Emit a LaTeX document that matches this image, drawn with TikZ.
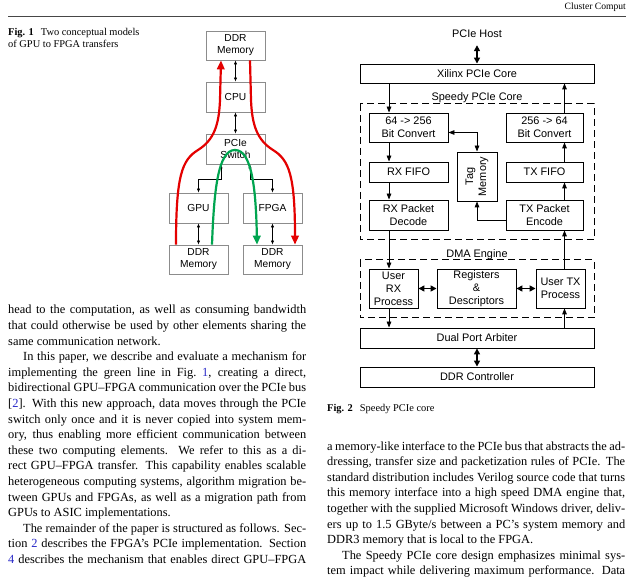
\documentclass[tikz,border=0pt]{standalone}
\usepackage{fontspec}
\setmainfont{Liberation Serif}
\newfontfamily\arialfam{Liberation Sans}
\usetikzlibrary{arrows.meta}
\definecolor{figred}{RGB}{228,0,0}
\definecolor{figgreen}{RGB}{0,165,80}
\definecolor{boxgray}{RGB}{140,140,140}
\definecolor{linkblue}{RGB}{40,40,200}
\definecolor{rulegray}{RGB}{70,70,70}
\newcommand\BodyFont{\fontsize{12.4}{15.6}\selectfont}
\newcommand\CapFont{\fontsize{10.4}{11.8}\selectfont}
\newcommand\HeadFont{\fontsize{9.6}{11}\selectfont}
\newcommand\FigAFont{\arialfam\fontsize{10.2}{12}\selectfont}
\newcommand\FigBFont{\arialfam\fontsize{10.9}{13}\selectfont}
\newcommand\lk[1]{\textcolor{linkblue}{#1}}
\newcommand\JL[1]{\hbox to\hsize{#1}}
\newcommand\NL[1]{\hbox{#1}}
\begin{document}
\begin{tikzpicture}[x=1pt,y=-1pt,
  gbox/.style={draw=boxgray, line width=0.7pt, fill=white, minimum width=59pt, minimum height=30pt, inner sep=0pt, align=center, font=\FigAFont},
  bbox/.style={draw=black, line width=0.9pt, fill=white, inner sep=0pt, align=center, font=\FigBFont},
  thinarr/.style={{Latex[length=4pt,width=3.2pt]}-{Latex[length=4pt,width=3.2pt]}, line width=0.55pt},
  redarr/.style={draw=figred, line width=2.2pt, -{Triangle[length=9pt,width=7.5pt]}},
  greenarr/.style={draw=figgreen, line width=2.2pt, -{Triangle[length=9pt,width=7.5pt]}},
  arr/.style={-{Triangle[length=6pt,width=4.6pt]}, line width=0.9pt},
  darr/.style={{Triangle[length=6pt,width=4.6pt]}-{Triangle[length=6pt,width=4.6pt]}, line width=0.9pt},
  barr/.style={{Triangle[length=6pt,width=6pt]}-{Triangle[length=6pt,width=6pt]}, line width=1.5pt},
  dashbox/.style={draw=black, line width=1pt, dash pattern=on 7pt off 4pt},
  lbl/.style={inner sep=0pt, font=\FigBFont}
]
\useasboundingbox (0,0) rectangle (640,577);
\fill[white] (0,0) rectangle (640,577);

% ---------- header ----------
\node[anchor=base east, inner sep=0pt, font=\HeadFont] (hdr) at (626,10) {Cluster Comput};
\coordinate (ruleL) at (8,16.5);
\coordinate (ruleR) at (626,16.5);
\draw[line width=0.7pt, rulegray] (ruleL) -- (ruleR);

% ---------- Fig. 1 caption ----------
\node[anchor=base west, inner sep=0pt] (cap1) at (8,35.5) {\vtop{\CapFont\hsize=150pt
  \NL{\textbf{Fig. 1}\hspace{7pt}Two conceptual models}
  \NL{of GPU to FPGA transfers}}};

% ---------- Fig. 1 ----------
\node[gbox, minimum height=29pt] (ddrT) at (235.5,45.5) {DDR\\Memory};
\node[gbox] (cpu) at (235.5,97) {CPU};
\node[gbox] (sw) at (235.5,149) {PCIe\\Switch};
\node[gbox] (gpu) at (198.5,208) {GPU};
\node[gbox] (fpga) at (272.5,208) {FPGA};
\node[gbox, minimum height=29pt] (ddrL) at (198.5,259.5) {DDR\\Memory};
\node[gbox, minimum height=29pt] (ddrR) at (272.5,259.5) {DDR\\Memory};

\draw[thinarr] (ddrT.south) -- (cpu.north);
\draw[thinarr] (cpu.south) -- (sw.north);
\draw[thinarr] ([xshift=-14.5pt]sw.south) -- ++(0,15) -| (gpu.north);
\draw[thinarr] ([xshift=14.5pt]sw.south) -- ++(0,15) -| (fpga.north);
\draw[thinarr] (gpu.south) -- (ddrL.north);
\draw[thinarr] (fpga.south) -- (ddrR.north);

\draw[redarr] ([xshift=-22.5pt]ddrL.north) .. controls (176,175) and (182,160) .. (198,150)
  .. controls (214,140) and (219,125) .. (220,100) -- ([xshift=-14.5pt]ddrT.south);
\draw[redarr] ([xshift=14.5pt]ddrT.south) -- (251,100) .. controls (252,125) and (257,140) .. (273,150)
  .. controls (289,160) and (295,175) .. ([xshift=22.5pt]ddrR.north);
\draw[greenarr] ([xshift=13.5pt]ddrL.north) .. controls (214,190) and (218,150) .. (235,150)
  .. controls (252,150) and (256,190) .. ([xshift=-15.5pt]ddrR.north);

% ---------- Fig. 2 ----------
\draw[dashbox] (360,104) rectangle (594,240);
\draw[dashbox] (360,260) rectangle (594,318);
\node[lbl] (splbl) at (477,98) {Speedy PCIe Core};
\node[lbl] (dmalbl) at (477,255) {DMA Engine};

\node[lbl, minimum height=22pt] (host) at (477,34) {PCIe Host};
\node[bbox, minimum width=234pt, minimum height=19pt] (xil) at (477,73.5) {Xilinx PCIe Core};
\node[bbox, minimum width=79pt, minimum height=29pt] (bc1) at (408.5,127.5) {64 -> 256\\Bit Convert};
\node[bbox, minimum width=77pt, minimum height=29pt] (bc2) at (544.5,127.5) {256 -> 64\\Bit Convert};
\node[bbox, minimum width=79pt, minimum height=20pt] (rxf) at (408.5,172) {RX FIFO};
\node[bbox, minimum width=79pt, minimum height=30pt] (rxd) at (408.5,215) {RX Packet\\Decode};
\node[bbox, minimum width=40pt, minimum height=49pt] (tag) at (477,176.5) {};
\node[lbl, rotate=90, align=center] (tagtxt) at (tag.center) {Tag\\Memory};
\node[bbox, minimum width=77pt, minimum height=20pt] (txf) at (544.5,172) {TX FIFO};
\node[bbox, minimum width=77pt, minimum height=30pt] (txe) at (544.5,215) {TX Packet\\Encode};
\node[bbox, minimum width=49pt, minimum height=39pt] (urx) at (393.5,288.5) {User\\RX\\Process};
\node[bbox, minimum width=79pt, minimum height=39pt] (reg) at (476.5,288.5) {Registers\\\&\\Descriptors};
\node[bbox, minimum width=49pt, minimum height=39pt] (utx) at (560.5,288.5) {User TX\\Process};
\node[bbox, minimum width=234pt, minimum height=20pt] (arb) at (477,338) {Dual Port Arbiter};
\node[bbox, minimum width=234pt, minimum height=20pt] (ddrc) at (477,377) {DDR Controller};

\coordinate (colL) at (389,0);
\coordinate (colR) at (564.5,0);

\draw[barr] (host.south) -- (xil.north);
\draw[arr] (xil.south -| colL) -- (bc1.north -| colL);
\draw[arr] (bc1.south -| colL) -- (rxf.north -| colL);
\draw[arr] (rxf.south -| colL) -- (rxd.north -| colL);
\draw[darr] ([yshift=-5pt]bc1.east) -| (tag.north);
\draw[arr] ([yshift=-5pt]txe.west) -| (tag.south);
\draw[arr] (txe.north -| colR) -- (txf.south -| colR);
\draw[arr] (txf.north -| colR) -- (bc2.south -| colR);
\draw[arr] (bc2.north -| colR) -- (xil.south -| colR);
\draw[arr] (rxd.south -| colL) -- (urx.north -| colL);
\draw[arr] (utx.north -| colR) -- (txe.south -| colR);
\draw[barr] (urx.east) -- (reg.west);
\draw[barr] (reg.east) -- (utx.west);
\draw[arr] (urx.south -| colL) -- (arb.north -| colL);
\draw[arr] (arb.north -| colR) -- (utx.south -| colR);
\draw[barr] (arb.south) -- (ddrc.north);

\node[anchor=base west, inner sep=0pt] (cap2) at (327,411) {\CapFont\textbf{Fig. 2}\hspace{7pt}Speedy PCIe core};

% ---------- body text, left column ----------
\node[anchor=base west, inner sep=0pt] (txtL) at (8,314) {\vtop{\BodyFont\hsize=298pt
\JL{head to the computation, as well as consuming bandwidth}
\JL{that could otherwise be used by other elements sharing the}
\NL{same communication network.}
\JL{\hspace*{15pt}In this paper, we describe and evaluate a mechanism for}
\JL{implementing the green line in Fig.~\lk{1}, creating a direct,}
\JL{bidirectional GPU--FPGA communication over the PCIe bus}
\JL{[\lk{2}]. With this new approach, data moves through the PCIe}
\JL{switch only once and it is never copied into system mem-}
\JL{ory, thus enabling more efficient communication between}
\JL{these two computing elements. We refer to this as a di-}
\JL{rect GPU--FPGA transfer. This capability enables scalable}
\JL{heterogeneous computing systems, algorithm migration be-}
\JL{tween GPUs and FPGAs, as well as a migration path from}
\NL{GPUs to ASIC implementations.}
\JL{\hspace*{15pt}The remainder of the paper is structured as follows. Sec-}
\JL{tion \lk{2} describes the FPGA's PCIe implementation. Section}
\JL{\lk{4} describes the mechanism that enables direct GPU--FPGA}
}};

% ---------- body text, right column ----------
\node[anchor=base west, inner sep=0pt] (txtR) at (327,450) {\vtop{\BodyFont\hsize=298pt
\JL{a memory-like interface to the PCIe bus that abstracts the ad-}
\JL{dressing, transfer size and packetization rules of PCIe. The}
\JL{standard distribution includes Verilog source code that turns}
\JL{this memory interface into a high speed DMA engine that,}
\JL{together with the supplied Microsoft Windows driver, deliv-}
\JL{ers up to 1.5 GByte/s between a PC's system memory and}
\NL{DDR3 memory that is local to the FPGA.}
\JL{\hspace*{15pt}The Speedy PCIe core design emphasizes minimal sys-}
\JL{tem impact while delivering maximum performance. Data}
}};
\end{tikzpicture}
\end{document}
